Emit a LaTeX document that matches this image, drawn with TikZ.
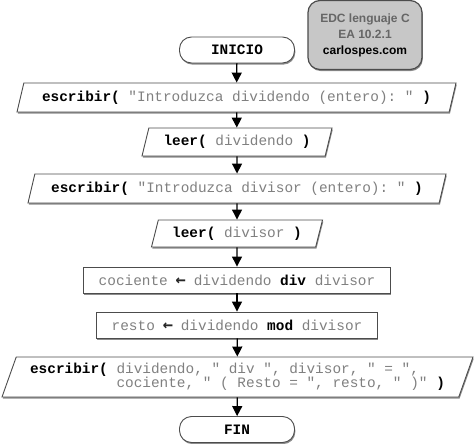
\documentclass[tikz,border=0pt]{standalone}
\usepackage{fontspec}
\setmainfont{Liberation Sans}
\setmonofont{Liberation Mono}
\newfontfamily\arrowfont{DejaVu Sans Mono}
\usetikzlibrary{shapes.geometric, arrows.meta, shadows}

\definecolor{txtgray}{gray}{0.5}
\definecolor{boxgray}{gray}{0.78}
\definecolor{edgegray}{gray}{0.3}
\newcommand{\kw}[1]{{\color{black}\bfseries#1}}
\newcommand{\asig}{\makebox[8.64pt]{\color{black!85}\arrowfont\bfseries\fontsize{17}{14}\selectfont ←}}

\begin{document}
\begin{tikzpicture}[x=1pt, y=-1pt,
  base/.style={draw=edgegray, line width=0.9pt, fill=white, inner sep=0pt,
    font=\fontsize{14.4}{14.5}\selectfont\ttfamily, text=txtgray,
    drop shadow={shadow xshift=0.8pt, shadow yshift=-1.6pt, fill=black!45, opacity=1}},
  term/.style={base, rounded corners=12pt, minimum width=115pt, minimum height=26pt,
    text=black, font=\fontsize{14.4}{14.5}\selectfont\ttfamily\bfseries},
  io/.style={base, trapezium, trapezium left angle=63, trapezium right angle=117,
    trapezium stretches body, minimum height=29pt},
  proc/.style={base, rectangle, minimum height=26pt},
  flow/.style={-{Triangle[width=10pt,length=10pt]}, line width=1.3pt}]
\useasboundingbox (0,0) rectangle (474,444);

\node[base, rectangle, rounded corners=12pt, fill=boxgray, line width=1.2pt,
  minimum width=114pt, minimum height=69pt, align=center, text=black!60,
  font=\fontsize{12}{16}\selectfont\bfseries] (info) at (365,35)
  {EDC lenguaje C\\EA 10.2.1\\{\color{black}carlospes.com}};

\node[term] (ini) at (237,50) {INICIO};
\node[io, minimum width=439pt] (e1) at (236.5,97.5)
  {\kw{escribir(} "Introduzca dividendo (entero): " \kw{)}};
\node[io, minimum width=190pt, minimum height=28pt] (l1) at (237,142)
  {\kw{leer(} dividendo \kw{)}};
\node[io, minimum width=418pt] (e2) at (237,188.5)
  {\kw{escribir(} "Introduzca divisor (entero): " \kw{)}};
\node[io, minimum width=171pt, minimum height=27pt] (l2) at (237,233.5)
  {\kw{leer(} divisor \kw{)}};
\node[proc, minimum width=307pt] (c) at (237,280)
  {cociente \asig{} dividendo \kw{div} divisor};
\node[proc, minimum width=281pt] (r) at (237,325)
  {resto \asig{} dividendo \kw{mod} divisor};
\node[io, minimum width=471pt, minimum height=40pt, align=left] (e3) at (237.5,377)
  {\kw{escribir(} dividendo, " div ", divisor, " = ",\\
   \phantom{\kw{escribir(} }cociente, " ( Resto = ", resto, " )" \kw{)}};
\node[term] (fin) at (237,429.5) {FIN};

\foreach \a/\b in {ini/e1, e1/l1, l1/e2, e2/l2, l2/c, c/r, r/e3, e3/fin}
  \draw[flow] (\a) -- (\b);
\end{tikzpicture}
\end{document}
